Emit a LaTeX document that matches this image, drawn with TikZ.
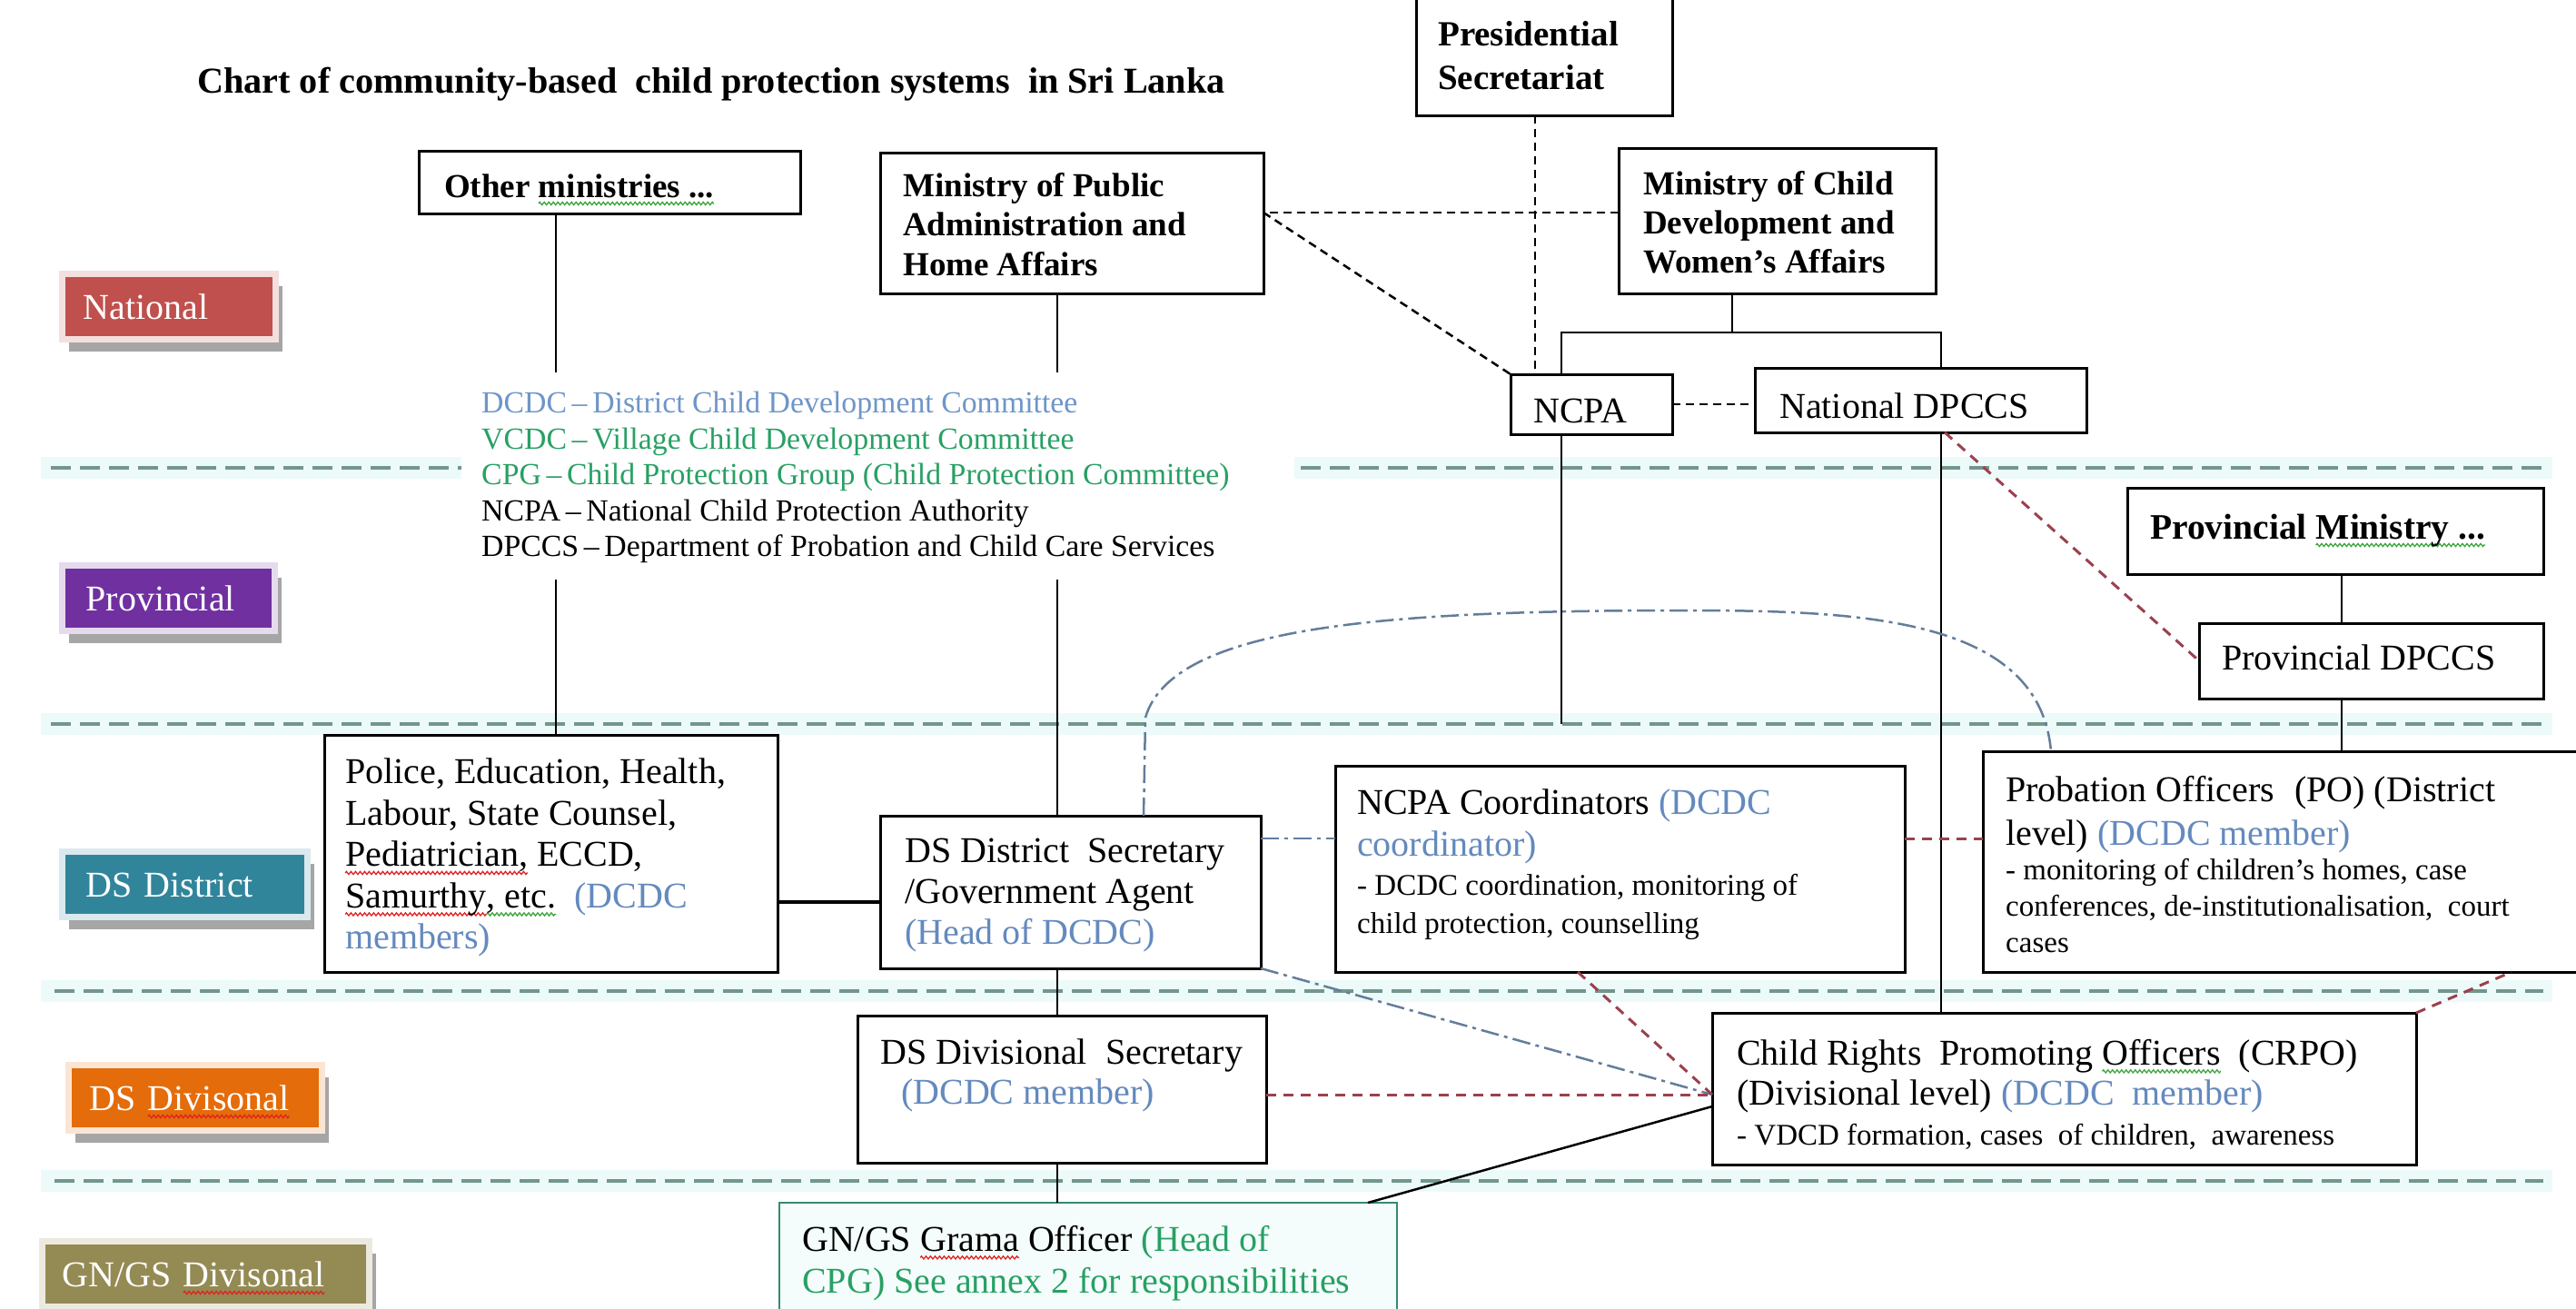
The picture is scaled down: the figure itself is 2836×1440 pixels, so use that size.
\documentclass[tikz,border=0pt]{standalone}
\usepackage{fontspec}
\setmainfont{Liberation Serif}
\usetikzlibrary{shadows,decorations.pathmorphing}
\definecolor{natred}{RGB}{192,80,77}
\definecolor{provpur}{RGB}{112,48,160}
\definecolor{distteal}{RGB}{49,133,155}
\definecolor{divorg}{RGB}{228,108,10}
\definecolor{gnolive}{RGB}{148,138,84}
\definecolor{dcdc}{RGB}{100,138,190}
\definecolor{dcdcL}{RGB}{110,150,200}
\definecolor{grn}{RGB}{40,160,100}
\definecolor{sep}{RGB}{115,150,140}
\definecolor{glow}{RGB}{236,251,249}
\definecolor{rd}{RGB}{155,65,78}
\definecolor{dd}{RGB}{100,125,155}
\definecolor{gnbox}{RGB}{50,140,110}
\definecolor{gnfill}{RGB}{244,253,251}
\definecolor{sqred}{RGB}{225,35,35}
\definecolor{sqgrn}{RGB}{60,165,60}
\newsavebox\sqbox
\newcommand\sq[2]{\leavevmode\sbox\sqbox{#2}\rlap{\tikz[overlay,baseline=0pt,x=1pt,y=1pt]\draw[draw=#1, line width=1.3pt, decorate, decoration={zigzag, segment length=5pt, amplitude=1.6pt}] (0pt,-7pt) -- (\the\wd\sqbox,-7pt);}\usebox\sqbox}
\newcommand\redsq[1]{\sq{sqred}{#1}}
\newcommand\grnsq[1]{\sq{sqgrn}{#1}}
\newcommand\fsz[2]{\fontsize{#1}{#2}\selectfont}
\begin{document}
\begin{tikzpicture}[x=1pt,y=-1pt,
  box/.style={draw=black, line width=3pt, fill=white, anchor=north west, inner sep=0pt, outer sep=0pt},
  lvl/.style={anchor=north west, fill=#1, draw=#1!18, line width=7pt, text=white, inner ysep=0pt, align=left, font=\fsz{40}{46}, text height=27pt, text depth=0pt, minimum height=72pt, drop shadow={shadow xshift=7pt, shadow yshift=-13pt, fill=black!35, opacity=1}},
  tx/.style={anchor=north west, align=left, inner sep=0pt, font=\fsz{40}{46}},
  txb/.style={anchor=base west, inner sep=0pt, font=\fsz{40}{46}},
  bf/.style={font=\bfseries\fsz{37}{43.5}},
  conn/.style={draw=black, line width=2.5pt},
  bdash/.style={draw=black, line width=2.5pt, dash pattern=on 9pt off 6pt},
  rdash/.style={draw=rd, line width=3pt, dash pattern=on 11pt off 8pt},
  ddot/.style={draw=dd, line width=2.5pt, dash pattern=on 20pt off 6pt on 4pt off 6pt},
  sepline/.style={draw=sep, line width=4pt, dash pattern=on 22pt off 10pt},
  glowline/.style={draw=glow, line width=24pt}
]
\fill[white] (0,0) rectangle (2836,1440);
\useasboundingbox (0,0) rectangle (2836,1440);

% level separators
\draw[glowline] (45,515) -- (2810,515);
\draw[glowline] (45,797) -- (2810,797);
\draw[glowline] (45,1091) -- (2810,1091);
\draw[glowline] (45,1300) -- (2810,1300);
\draw[sepline] (56,515) -- (2800,515);
\draw[sepline] (56,797) -- (2800,797);
\draw[sepline] (60,1091) -- (2800,1091);
\draw[sepline] (60,1300) -- (2800,1300);

% boxes
\node[box, minimum width=282pt, minimum height=137pt] (pres) at (1559,-10) {};
\node[box, minimum width=420pt, minimum height=69pt] (othermin) at (461,166) {};
\node[box, minimum width=422pt, minimum height=155pt] (mpa) at (969,168) {};
\node[box, minimum width=349pt, minimum height=160pt] (mcd) at (1782,163) {};
\node[box, minimum width=178pt, minimum height=66pt] (ncpa) at (1663,412) {};
\node[box, minimum width=365pt, minimum height=71pt] (ndpccs) at (1932,405) {};
\node[box, minimum width=458pt, minimum height=95pt] (provmin) at (2342,537) {};
\node[box, minimum width=379pt, minimum height=83pt] (provdpccs) at (2421,686) {};
\node[box, minimum width=499pt, minimum height=261pt] (police) at (357,809) {};
\node[box, minimum width=419pt, minimum height=168pt] (dsdist) at (969,898) {};
\node[box, minimum width=450pt, minimum height=162pt] (dsdiv) at (944,1118) {};
\node[box, draw=gnbox, fill=gnfill, line width=2.5pt, minimum width=680pt, minimum height=140pt] (gngs) at (858,1324) {};
\node[box, minimum width=627pt, minimum height=227pt] (ncpac) at (1470,843) {};
\node[box, minimum width=667pt, minimum height=243pt] (prob) at (2183,827) {};
\node[box, minimum width=775pt, minimum height=167pt] (crpo) at (1885,1115) {};

% texts
\node[txb, font=\bfseries\fsz{40.2}{48}] (title) at (217,102) {Chart of community-based\ \ child protection systems\ \ in Sri Lanka};
\node[tx, font=\bfseries\fsz{39}{48}] (t-pres) at (1583,23) {Presidential\\Secretariat};
\node[txb, bf] (t-othermin) at (489,217) {Other \grnsq{ministries ...}};
\node[tx, font=\bfseries\fsz{37}{43.5}] (t-mpa) at (994,190) {Ministry of Public\\Administration and\\Home Affairs};
\node[tx, font=\bfseries\fsz{37}{43}] (t-mcd) at (1809,188) {Ministry of Child\\Development and\\Women’s Affairs};
\node[txb] (t-ncpa) at (1688,465) {NCPA};
\node[txb] (t-ndpccs) at (1959,460) {National DPCCS};
\node[txb, font=\bfseries\fsz{39.5}{44}] (t-provmin) at (2367,593) {Provincial \grnsq{Ministry ...}};
\node[txb] (t-provdpccs) at (2446,737) {Provincial DPCCS};
\node[tx, font=\fsz{40}{45.5}] (t-police) at (380,835) {Police, Education, Health,\\Labour, State Counsel,\\\redsq{Pediatrician,} ECCD,\\\redsq{Samurthy}\grnsq{, etc.}\ \ \textcolor{dcdc}{(DCDC}\\\textcolor{dcdc}{members)}};
\node[tx, font=\fsz{40}{45}] (t-dsdist) at (996,923) {DS District\ \ Secretary\\/Government Agent\\\textcolor{dcdc}{(Head of DCDC)}};
\node[tx, font=\fsz{40}{44}] (t-dsdiv) at (969,1144) {DS Divisional\ \ Secretary\\\hspace*{23pt}\textcolor{dcdc}{(DCDC member)}};
\node[tx, font=\fsz{40}{46}] (t-gngs) at (883,1349) {GN/GS \redsq{Grama} Officer \textcolor{grn}{(Head of}\\\textcolor{grn}{CPG) See annex 2 for responsibilities}};
\node[tx, font=\fsz{40}{46}] (t-ncpac) at (1494,869) {NCPA Coordinators \textcolor{dcdc}{(DCDC}\\\textcolor{dcdc}{coordinator)}};
\node[tx, font=\fsz{33}{42}] (t-ncpac2) at (1494,962) {- DCDC coordination, monitoring of\\child protection, counselling};
\node[tx, font=\fsz{40}{48}] (t-prob) at (2208,854) {Probation Officers\hspace{22pt}(PO) (District\\level) \textcolor{dcdc}{(DCDC member)}};
\node[tx, font=\fsz{33}{40}] (t-prob2) at (2208,945) {- monitoring of children’s homes, case\\conferences, de-institutionalisation,\ \ court\\cases};
\node[tx, font=\fsz{40}{44}] (t-crpo) at (1912,1144) {Child Rights\ \ Promoting \grnsq{Officers}\ \ (CRPO)\\(Divisional level) \textcolor{dcdc}{(DCDC\ \ member)}};
\node[txb, font=\fsz{33}{40}] (t-crpo2) at (1912,1260) {- VDCD formation, cases\ \ of children,\ \ awareness};

% connectors
\coordinate (xMPA) at (1164,0);
\draw[conn] (mpa.south -| xMPA) -- (dsdist.north -| xMPA);
\draw[conn] (dsdist.south -| xMPA) -- (dsdiv.north -| xMPA);
\draw[conn] (dsdiv.south -| xMPA) -- (gngs.north -| xMPA);
\coordinate (xOM) at (612,0);
\draw[conn] (othermin.south -| xOM) -- (police.north -| xOM);
\coordinate (yPD) at (0,993);
\draw[conn, line width=4pt] (police.east |- yPD) -- (dsdist.west |- yPD);

\coordinate (xPres) at (1690,0);
\draw[bdash] (pres.south -| xPres) -- (ncpa.north -| xPres);
\coordinate (yMin) at (0,234);
\coordinate (mj) at (mpa.east |- yMin);
\draw[bdash] (mcd.west |- yMin) -- (mj);
\draw[bdash] (mj) -- (ncpa.north west);

\coordinate (xMCD) at (1907,0);
\coordinate (yBr) at (0,366);
\coordinate (xN) at (1719,0);
\coordinate (xD) at (2137,0);
\draw[conn] (mcd.south -| xMCD) -- (yBr -| xMCD);
\draw[conn] (ncpa.north -| xN) -- (yBr -| xN) -- (yBr -| xD) -- (ndpccs.north -| xD);
\coordinate (ncpaEnd) at (1719,797);
\draw[conn] (ncpa.south -| xN) -- (ncpaEnd);
\draw[conn] (ndpccs.south -| xD) -- (crpo.north -| xD);
\draw[bdash] (ncpa.east) -- (ndpccs.west |- ncpa.east);
\draw[rdash] ([xshift=4pt]ndpccs.south -| xD) -- (provdpccs.west);

\coordinate (xPM) at (2578,0);
\draw[conn] (provmin.south -| xPM) -- (provdpccs.north -| xPM);
\draw[conn] (provdpccs.south -| xPM) -- (prob.north -| xPM);

\coordinate (xC1) at (1259,0);
\coordinate (xC2) at (2258,0);
\draw[ddot] (dsdist.north -| xC1) -- (1261,790) .. controls (1290,690) and (1520,672) .. (1855,672) .. controls (2050,672) and (2245,680) .. (prob.north -| xC2);

\coordinate (yDC) at (0,923);
\draw[ddot] (dsdist.east |- yDC) -- (ncpac.west |- yDC);
\draw[rdash] (ncpac.east |- yDC) -- (prob.west |- yDC);
\coordinate (yCv) at (0,1205);
\coordinate (cv) at (crpo.west |- yCv);
\draw[ddot] (dsdist.south east) -- (cv);
\coordinate (xNC) at (1737,0);
\draw[rdash] (ncpac.south -| xNC) -- (cv);
\draw[rdash] (dsdiv.east |- yCv) -- (cv);
\coordinate (xPB) at (2765,0);
\draw[rdash] (crpo.north east) -- (prob.south -| xPB);
\coordinate (xGN) at (1506,0);
\coordinate (yGC) at (0,1218);
\draw[conn] (gngs.north -| xGN) -- (crpo.west |- yGC);

% legend
\node[anchor=north west, fill=white, inner sep=0pt, minimum width=917pt, minimum height=228pt] (legendbg) at (508,410) {};
\node[tx, font=\fsz{33.8}{39.5}] (legend) at (530,431) {\textcolor{dcdcL}{DCDC\,–\,District Child Development Committee}\\\textcolor{grn}{VCDC\,–\,Village Child Development Committee}\\\textcolor{grn}{CPG\,–\,Child Protection Group (Child Protection Committee)}\\NCPA\,–\,National Child Protection Authority\\DPCCS\,–\,Department of Probation and Child Care Services};

% level labels
\node[lvl=natred, text width=189pt, inner xsep=23pt] (lnat) at (65,298) {National};
\node[lvl=provpur, text width=182pt, inner xsep=26pt] (lprov) at (65,619) {Provincial};
\node[lvl=distteal, text width=218pt, inner xsep=26pt] (ldist) at (65,934) {DS District};
\node[lvl=divorg, text width=233pt, inner xsep=23pt] (ldiv) at (72,1169) {DS \redsq{Divisonal}};
\node[lvl=gnolive, text width=316pt, inner xsep=22pt] (lgn) at (43,1363) {GN/GS \redsq{Divisonal}};
\end{tikzpicture}
\end{document}
